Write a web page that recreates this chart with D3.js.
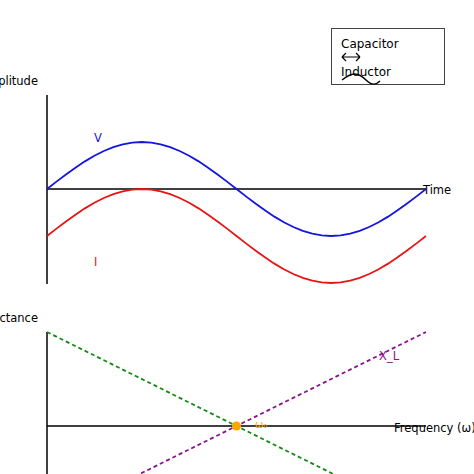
<!DOCTYPE html>
<html><head><meta charset="utf-8">
<script src="https://cdn.jsdelivr.net/npm/d3@7"></script>
<style>body{margin:0;background:#fff}svg{font-family:"DejaVu Sans",sans-serif;font-size:11.5px}</style>
</head><body>
<script>
// sampled curves (t in units of pi)
var tVals = d3.range(0, 2.0001, 0.05);
var vVals = tVals.map(function(t){ return Math.sin(t*Math.PI); });
var iVals = tVals.map(function(t){ return Math.sin(t*Math.PI) - 1; });
var freq = [0, 1, 2];
var xC = [2, 0, -2];
var xL = [-2, 0, 2];

var svg = d3.select("body").append("svg").attr("width", 474).attr("height", 474);
var x = d3.scaleLinear().domain([0, 2]).range([47, 426]);
var yTop = d3.scaleLinear().domain([-2, 2]).range([283, 95]);
var yBot = d3.scaleLinear().domain([-2, 2]).range([520, 332]);

// top panel
svg.append("line").attr("x1", 47).attr("x2", 47).attr("y1", 95).attr("y2", 284).attr("stroke", "#000").attr("stroke-width", 1.5);
svg.append("line").attr("x1", 47).attr("x2", 426).attr("y1", yTop(0)).attr("y2", yTop(0)).attr("stroke", "#000").attr("stroke-width", 1.5);
var line = function(ys, y){ return d3.line().x(function(d, i){ return x(tVals[i]); }).y(function(d){ return y(d); })(ys); };
svg.append("path").attr("d", line(vVals, yTop)).attr("fill", "none").attr("stroke", "#1515e0").attr("stroke-width", 1.8);
svg.append("path").attr("d", line(iVals, yTop)).attr("fill", "none").attr("stroke", "#e81515").attr("stroke-width", 1.8);
svg.append("text").attr("x", 38).attr("y", 85).attr("text-anchor", "end").text("Amplitude");
svg.append("text").attr("x", 423).attr("y", 194).text("Time");
svg.append("text").attr("x", 94).attr("y", 142).attr("fill", "#1515e0").text("V");
svg.append("text").attr("x", 94).attr("y", 266).attr("fill", "#e81515").text("I");

// bottom panel
svg.append("line").attr("x1", 47).attr("x2", 47).attr("y1", 332).attr("y2", 474).attr("stroke", "#000").attr("stroke-width", 1.5);
svg.append("line").attr("x1", 47).attr("x2", 426).attr("y1", yBot(0)).attr("y2", yBot(0)).attr("stroke", "#000").attr("stroke-width", 1.5);
var lin = d3.line().x(function(d, i){ return x(freq[i]); }).y(function(d){ return yBot(d); });
svg.append("path").attr("d", lin(xC)).attr("fill", "none").attr("stroke", "#138a13").attr("stroke-width", 1.8).attr("stroke-dasharray", "4,3");
svg.append("path").attr("d", lin(xL)).attr("fill", "none").attr("stroke", "#8a138a").attr("stroke-width", 1.8).attr("stroke-dasharray", "4,3");
svg.append("circle").attr("cx", x(1)).attr("cy", yBot(0)).attr("r", 4.5).attr("fill", "orange");
svg.append("text").attr("x", 255).attr("y", 428).attr("fill", "orange").attr("font-size", 10).text("ω₀");
svg.append("text").attr("x", 379).attr("y", 360).attr("fill", "#8a138a").text("X_L");
svg.append("text").attr("x", 38).attr("y", 322).attr("text-anchor", "end").text("Reactance");
svg.append("text").attr("x", 394).attr("y", 432).text("Frequency (ω)");

// legend
svg.append("rect").attr("x", 331.5).attr("y", 28.5).attr("width", 113).attr("height", 56).attr("fill", "#fff").attr("stroke", "#444");
svg.append("text").attr("x", 341).attr("y", 48).attr("font-size", 12).text("Capacitor");
svg.append("path").attr("d", "M342,57 L360,57 M342,57 l4,-4 M342,57 l4,4 M360,57 l-4,-4 M360,57 l-4,4").attr("stroke", "#000").attr("fill", "none").attr("stroke-width", 1.2);
svg.append("text").attr("x", 341).attr("y", 76).attr("font-size", 12).text("Inductor");
svg.append("path").attr("d", "M342,80 C352,72 358,72 366,80 C372,86 376,85 380,81").attr("stroke", "#000").attr("fill", "none").attr("stroke-width", 1.5);
</script>
</body></html>
